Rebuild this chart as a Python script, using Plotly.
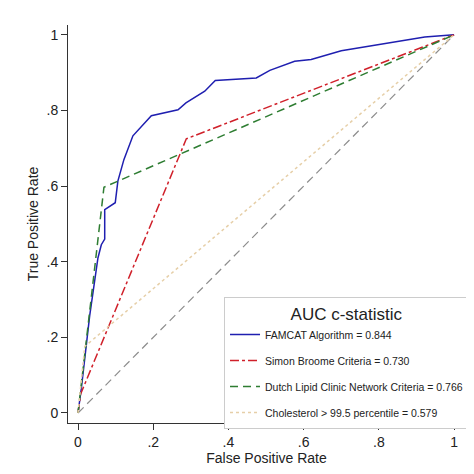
import plotly.graph_objects as go

fam_x = [0, 0.009, 0.031, 0.044, 0.053, 0.062, 0.071, 0.071, 0.099, 0.106, 0.122, 0.146, 0.195, 0.266, 0.287, 0.337, 0.365, 0.474, 0.51, 0.576, 0.62, 0.70, 0.789, 0.922, 1]
fam_y = [0, 0.066, 0.257, 0.349, 0.41, 0.445, 0.46, 0.538, 0.556, 0.613, 0.670, 0.733, 0.786, 0.802, 0.820, 0.851, 0.879, 0.886, 0.906, 0.930, 0.935, 0.958, 0.972, 0.994, 1]
sb_x = [0, 0.007, 0.288, 1]
sb_y = [0, 0.05, 0.725, 1]
dl_x = [0, 0.069, 1]
dl_y = [0, 0.597, 1]
ch_x = [0, 0.018, 1]
ch_y = [0, 0.176, 1]
ref_x = [0, 1]
ref_y = [0, 1]
ticks = [0, 0.2, 0.4, 0.6, 0.8, 1]
tick_text = ["0", ".2", ".4", ".6", ".8", "1"]

fig = go.Figure()
fig.add_trace(go.Scatter(x=ref_x, y=ref_y, mode="lines", showlegend=False,
                         line=dict(color="#8c8c8c", width=1.2, dash="8px,5px")))
fig.add_trace(go.Scatter(x=fam_x, y=fam_y, mode="lines", name="FAMCAT Algorithm = 0.844", legendgroup="a",
                         line=dict(color="#1f1fb0", width=1.5)))
fig.add_trace(go.Scatter(x=sb_x, y=sb_y, mode="lines", name="Simon Broome Criteria = 0.730", legendgroup="b",
                         line=dict(color="#d0202a", width=1.5, dash="dashdot")))
fig.add_trace(go.Scatter(x=dl_x, y=dl_y, mode="lines", name="Dutch Lipid Clinic Network Criteria = 0.766", legendgroup="c",
                         line=dict(color="#2e7d32", width=1.5, dash="8px,5px")))
fig.add_trace(go.Scatter(x=ch_x, y=ch_y, mode="lines", name="Cholesterol > 99.5 percentile = 0.579", legendgroup="d",
                         line=dict(color="#e6cfa8", width=1.5, dash="dot")))

axis_common = dict(tickvals=ticks, ticktext=tick_text, showgrid=False, zeroline=False,
                   showline=True, linecolor="#333", linewidth=1, ticks="outside",
                   ticklen=6, tickcolor="#333", tickfont=dict(size=14, color="#222"),
                   automargin=False)
fig.update_layout(
    width=474, height=474, plot_bgcolor="white", paper_bgcolor="white",
    font=dict(family="Liberation Sans, Arial", color="#222"),
    margin=dict(l=60, r=17, t=17, b=59),
    xaxis=dict(range=[-0.0266, 1.029], title=dict(text="False Positive Rate", font=dict(size=14), standoff=2), **axis_common),
    yaxis=dict(range=[-0.0265, 1.026], title=dict(text="True Positive Rate", font=dict(size=14), standoff=4), **axis_common),
    legend=dict(x=0.393, y=0.317, xanchor="left", yanchor="top",
                bordercolor="#cccccc", borderwidth=1, bgcolor="white",
                title=dict(text="AUC c-statistic", font=dict(size=17), side="top center"),
                font=dict(size=10.5), itemwidth=30, traceorder="grouped", tracegroupgap=7),
)
fig.write_html("out.html")
